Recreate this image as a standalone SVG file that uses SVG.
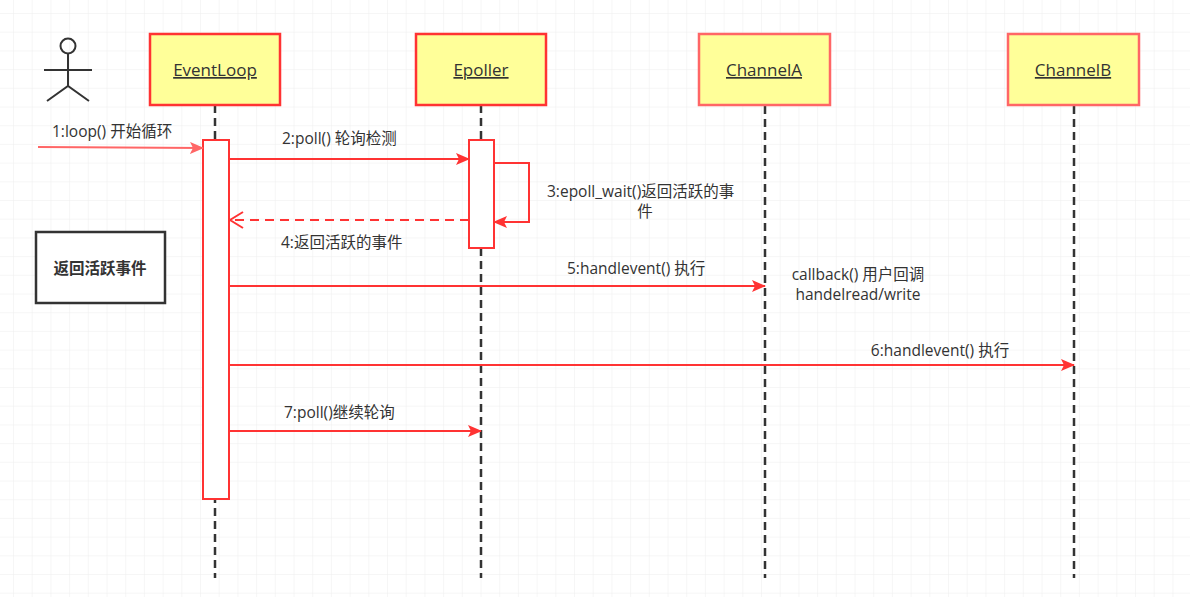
<svg xmlns="http://www.w3.org/2000/svg" width="1190" height="597" viewBox="0 0 1190 597">
<defs>
<pattern id="g" x="14" y="14" width="18.7" height="18.7" patternUnits="userSpaceOnUse"><path d="M18.7 0V18.7H0" fill="none" stroke="#eeeeee" stroke-width="1"/></pattern>
<marker id="a" markerWidth="14" markerHeight="12" refX="13" refY="6" orient="auto" markerUnits="userSpaceOnUse"><path d="M0 0L14 6L0 12L3 6Z" fill="#ff3333"/></marker>
<marker id="a1" markerWidth="14" markerHeight="12" refX="13" refY="6" orient="auto" markerUnits="userSpaceOnUse"><path d="M0 0L14 6L0 12L3 6Z" fill="#ff6666"/></marker>
<marker id="o" markerWidth="15" markerHeight="18" refX="14" refY="9" orient="auto" markerUnits="userSpaceOnUse"><path d="M1 1L14 9L1 17" fill="none" stroke="#ff3333" stroke-width="2"/></marker>
</defs>
<style>
.box{fill:#ffff99;stroke-width:2.5}
.life{stroke:#333;stroke-width:2.5;stroke-dasharray:8,5}
.act{fill:#fff;stroke:#ff3333;stroke-width:2}
.t{font-family:"Open Sans","Noto Sans CJK SC",sans-serif;font-size:15.5px;fill:#333}
.n{font-family:"Open Sans","Noto Sans CJK SC",sans-serif;font-size:17px;fill:#333;text-decoration:underline;text-anchor:middle}
.m{stroke:#ff3333;stroke-width:2;fill:none}
</style>
<rect width="1190" height="597" fill="#fff"/>
<rect width="1190" height="597" fill="url(#g)"/>
<g id="lifelines">
<line class="life" x1="215" y1="105" x2="215" y2="578"/>
<line class="life" x1="481" y1="105" x2="481" y2="578"/>
<line class="life" x1="765" y1="106" x2="765" y2="578"/>
<line class="life" x1="1074" y1="106" x2="1074" y2="578"/>
</g>
<g id="actor" stroke="#333" stroke-width="2" fill="none">
<circle cx="68" cy="46" r="7.5"/><path d="M68 54V86M44 70H92M47 101L68 86L89 101"/>
</g>
<g id="EventLoop"><rect class="box" x="150" y="34" width="130" height="71" stroke="#ff3333"/><text class="n" x="215" y="76">EventLoop</text></g>
<g id="Epoller"><rect class="box" x="416" y="34" width="130" height="71" stroke="#ff3333"/><text class="n" x="481" y="76">Epoller</text></g>
<g id="ChannelA"><rect class="box" x="699" y="34" width="131" height="71" stroke="#ff6666"/><text class="n" x="764" y="76">ChannelA</text></g>
<g id="ChannelB"><rect class="box" x="1008" y="34" width="131" height="71" stroke="#ff6666"/><text class="n" x="1073" y="76">ChannelB</text></g>
<g id="act1"><rect class="act" x="203" y="140" width="26" height="359"/></g>
<g id="act2"><rect class="act" x="469" y="140" width="25" height="108"/></g>
<g id="note"><rect x="36" y="232" width="129" height="71" fill="#fff" stroke="#333" stroke-width="2.5"/><text class="t" x="100" y="274" text-anchor="middle" font-weight="bold">返回活跃事件</text></g>
<g id="connectors">
<line x1="38" y1="147" x2="203" y2="148" stroke="#ff6666" stroke-width="2" marker-end="url(#a1)"/>
<line class="m" x1="229" y1="159" x2="469" y2="159" marker-end="url(#a)"/>
<path class="m" d="M494 163H529V222H494" stroke-width="2.5" stroke="#ff0000" marker-end="url(#a)"/>
<line class="m" x1="469" y1="220" x2="230" y2="220" stroke-dasharray="9,6" marker-end="url(#o)"/>
<line class="m" x1="229" y1="286" x2="765" y2="286" marker-end="url(#a)"/>
<line class="m" x1="229" y1="365" x2="1074" y2="365" stroke="#ff0000" stroke-width="2.5" marker-end="url(#a)"/>
<line class="m" x1="229" y1="431" x2="481" y2="431" marker-end="url(#a)"/>
</g>
<g id="labels">
<text class="t" x="52" y="137">1:loop() 开始循环</text>
<text class="t" x="282" y="144">2:poll() 轮询检测</text>
<text class="t" x="547" y="197">3:epoll_wait()返回活跃的事</text>
<text class="t" x="645" y="217" text-anchor="middle">件</text>
<text class="t" x="281" y="248">4:返回活跃的事件</text>
<text class="t" x="567" y="274">5:handlevent() 执行</text>
<text class="t" x="858" y="280" text-anchor="middle">callback() 用户回调</text>
<text class="t" x="858" y="300" text-anchor="middle">handelread/write</text>
<text class="t" x="940" y="356" text-anchor="middle">6:handlevent() 执行</text>
<text class="t" x="284" y="418">7:poll()继续轮询</text>
</g>
</svg>
